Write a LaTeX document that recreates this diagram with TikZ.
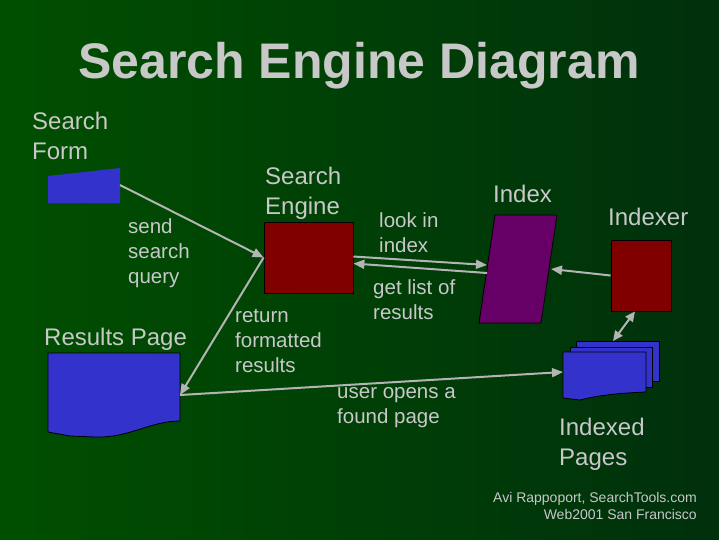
\documentclass[tikz,border=0pt]{standalone}
\usepackage{fontspec}
\setmainfont{Liberation Sans}
\usetikzlibrary{arrows.meta}
\definecolor{bgl}{HTML}{004F00}
\definecolor{bgr}{HTML}{00300C}
\definecolor{txt}{HTML}{C8C8C8}
\definecolor{arr}{HTML}{B4B4B4}
\definecolor{pblue}{HTML}{3333CC}
\definecolor{dred}{HTML}{800000}
\definecolor{purp}{HTML}{660066}
\tikzset{
 lbl/.style={text=txt,font=\fontsize{24}{30}\selectfont,align=left,inner sep=0pt,anchor=north west},
 slbl/.style={lbl,font=\fontsize{20.5}{25}\selectfont},
 conn/.style={draw=arr,line width=2pt,-{Triangle[length=11pt,width=9pt]}},
 box/.style={draw=black,line width=0.8pt}
}
\begin{document}
\begin{tikzpicture}[x=1pt,y=-1pt]
\shade[left color=bgl,right color=bgr] (0,0) rectangle (719,539);
\useasboundingbox (0,0) rectangle (719,539);
\node[text=txt,font=\fontsize{50}{56}\bfseries\selectfont,anchor=base] (title) at (359,78) {Search Engine Diagram};
% shapes
\fill[pblue] (48,176) -- (120,168) -- (120,203) -- (48,203) -- cycle;
\coordinate (form) at (120,185);
\node[box,fill=dred,minimum width=89pt,minimum height=71pt,inner sep=0pt] (se) at (308.5,257.5) {};
\draw[box,fill=purp] (495,215) -- (557,215) -- (541,323) -- (479,323) -- cycle;
\coordinate (idxL) at (487,269); \coordinate (idxR) at (551,269);
\node[box,fill=dred,minimum width=60pt,minimum height=71pt,inner sep=0pt] (ixr) at (641,275.5) {};
\draw[box,fill=pblue] (48,353) -- (180,353) -- (180,421) .. controls (150,421) and (130,438) .. (95,437) -- (70,436) -- (48,432) -- cycle;
\coordinate (res) at (180,395);
\draw[box,fill=pblue] (576,341) rectangle (659,381);
\draw[box,fill=pblue] (570,347) rectangle (652,387);
\draw[box,fill=pblue] (563,352) -- (646,352) -- (646,392) .. controls (620,393) and (600,395) .. (580,400) -- (563,398) -- cycle;
\coordinate (pg) at (563,372);
\coordinate (pgT) at (613,341);
% connectors
\draw[conn] (form) -- (se.west);
\draw[conn] (se.west) -- (res);
\draw[conn] (res) -- (pg);
\draw[conn] ([yshift=1pt]se.east) -- ([yshift=4pt]idxL);
\draw[conn] ([yshift=-4pt]idxL) -- ([yshift=-6pt]se.east);
\draw[conn] (ixr.west) -- (idxR);
\draw[draw=arr,line width=2pt,{Triangle[length=10pt,width=9pt]}-{Triangle[length=10pt,width=9pt]}] ([xshift=-6pt]ixr.south) -- (pgT);
% labels
\node[lbl] (l1) at (32,112) {Search\\Form};
\node[lbl] (l2) at (265,167) {Search\\Engine};
\node[lbl] (l3) at (493,185) {Index};
\node[lbl] (l4) at (608,208) {Indexer};
\node[lbl] (l5) at (44,328) {Results Page};
\node[lbl] (l6) at (559,418) {Indexed\\Pages};
\node[slbl] (l7) at (128,218) {send\\search\\query};
\node[slbl] (l8) at (379,212) {look in\\index};
\node[slbl] (l9) at (373,279) {get list of\\results};
\node[slbl] (l10) at (235,309) {return\\formatted\\results};
\node[slbl] (l11) at (337,387) {user opens a\\found page};
\node[text=txt,font=\fontsize{14}{17}\selectfont,align=right,anchor=north east,inner sep=0pt] (foot) at (697,492) {Avi Rappoport, SearchTools.com\\Web2001 San Francisco};
\end{tikzpicture}
\end{document}
